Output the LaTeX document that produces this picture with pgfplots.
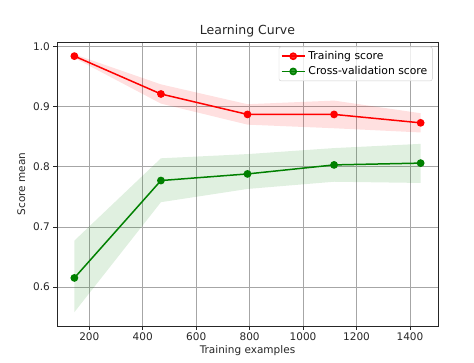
\documentclass[border=0pt]{standalone}
\usepackage{fontspec}
\setmainfont{DejaVu Sans}
\usepackage{pgfplots}
\pgfplotsset{compat=1.18}
\definecolor{mplred}{rgb}{1,0,0}
\definecolor{mplgreen}{rgb}{0,0.5,0}
\begin{document}
\begin{tikzpicture}
\begin{axis}[
  scale only axis,
  width=381pt, height=284pt,
  xmin=79, xmax=1505,
  ymin=0.535, ymax=1.0075,
  xtick={200,400,600,800,1000,1200,1400},
  ytick={0.6,0.7,0.8,0.9,1.0},
  yticklabels={0.6,0.7,0.8,0.9,1.0},
  /pgf/number format/assume math mode=true,
  /pgf/number format/1000 sep={},
  tick label style={font=\fontsize{10.5}{12}\selectfont, color=black!85},
  label style={font=\fontsize{10.5}{12}\selectfont, color=black!85},
  title style={font=\fontsize{12.5}{14}\selectfont, color=black!85, yshift=-4.5pt},
  title={Learning Curve},
  xlabel={Training examples},
  ylabel={Score mean},
  xlabel style={yshift=2pt},
  ylabel style={yshift=1pt},
  grid=major,
  major grid style={color=black!35, line width=0.6pt},
  axis line style={line width=0.6pt, black!85},
  tick style={line width=0.6pt, black!85},
  tick align=outside,
  major tick length=3.6pt,
  xtick pos=bottom, ytick pos=left,
  legend style={at={(1,1)}, anchor=north east, xshift=-5.5pt, yshift=-4.7pt,
    font=\fontsize{10.8}{12}\selectfont, draw=black!20, rounded corners=2pt,
    fill=white, fill opacity=0.8, text opacity=1, inner xsep=2pt, inner ysep=2.5pt,
    row sep=1.5pt, nodes={inner xsep=3pt}},
  legend cell align=left,
  legend image code/.code={
    \draw[#1, mark=none] (0pt,0pt) -- (23pt,0pt);
    \draw[#1, only marks] plot coordinates {(11.5pt,0pt)};
  },
]
% bands
\addplot[draw=none, fill=mplred, fill opacity=0.12, forget plot] coordinates {
 (144,0.987) (468,0.937) (792,0.904) (1116,0.910) (1440,0.889)
 (1440,0.857) (1116,0.864) (792,0.870) (468,0.905) (144,0.981)};
\addplot[draw=none, fill=mplgreen, fill opacity=0.12, forget plot] coordinates {
 (144,0.677) (468,0.814) (792,0.821) (1116,0.831) (1440,0.838)
 (1440,0.773) (1116,0.775) (792,0.763) (468,0.741) (144,0.558)};
% lines
\addplot[color=mplred, line width=1.5pt, mark=*, mark size=3.1pt, mark options={solid, fill=mplred, draw=mplred}] coordinates {
 (144,0.984) (468,0.921) (792,0.887) (1116,0.887) (1440,0.873)};
\addlegendentry{Training score}
\addplot[color=mplgreen, line width=1.5pt, mark=*, mark size=3.1pt, mark options={solid, fill=mplgreen, draw=mplgreen}] coordinates {
 (144,0.615) (468,0.777) (792,0.788) (1116,0.803) (1440,0.806)};
\addlegendentry{Cross-validation score}
\end{axis}
\path (current axis.south west) ++(-57pt,-37pt) coordinate (bbA);
\path (current axis.north east) ++(36pt,42pt) coordinate (bbB);
\path[use as bounding box] (bbA) rectangle (bbB);
\end{tikzpicture}
\end{document}
